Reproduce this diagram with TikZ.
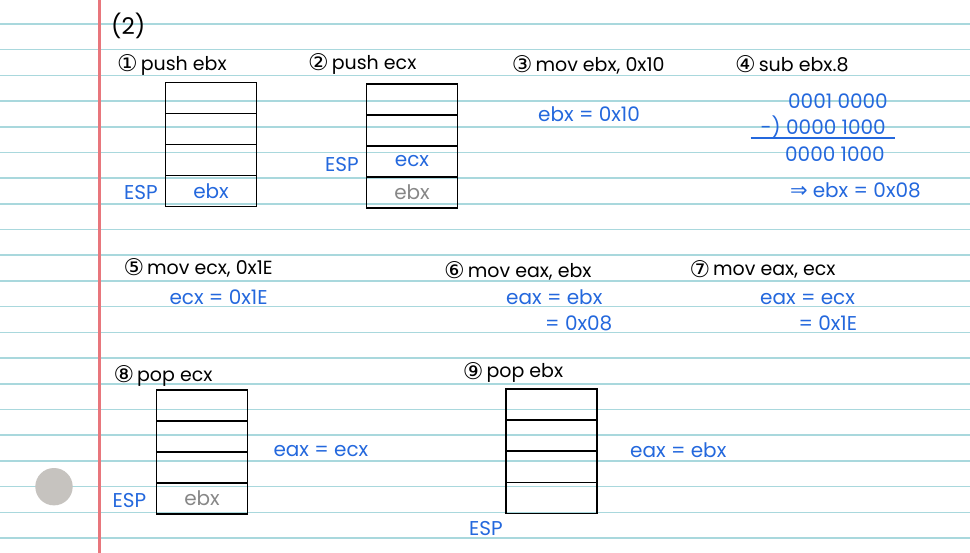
\documentclass[tikz,border=0pt]{standalone}
\usepackage{fontspec}
\setmainfont{Poppins}
\newfontfamily\dv{DejaVu Sans}
\definecolor{rule}{HTML}{A9D8DD}
\definecolor{margin}{HTML}{E8767C}
\definecolor{pen}{HTML}{2468DD}
\definecolor{faded}{HTML}{878787}
\definecolor{dot}{HTML}{C6C3BF}
\newcommand\cn[1]{\raisebox{-1.5pt}{\dv\fontsize{23}{24}\selectfont #1}\hspace{3pt}}
\begin{document}
\begin{tikzpicture}[x=1pt,y=-1pt,
  hd/.style={anchor=mid west, inner sep=0pt, yshift=-4.5pt, font=\fontsize{19}{22}\selectfont},
  bl/.style={anchor=mid west, inner sep=0pt, yshift=-4.5pt, text=pen, font=\fontsize{20}{23}\selectfont},
  blr/.style={bl, anchor=mid east},
  cell/.style={draw, line width=1.6pt, minimum width=91pt, minimum height=31pt, inner sep=0pt, font=\fontsize{20}{23}\selectfont},
  notebookline/.style={draw=rule, line width=1.6pt}]
\useasboundingbox (0,0) rectangle (970,553);
\fill[white] (0,0) rectangle (970,553);
% ruled paper
\foreach \k in {0,...,20} {
  \draw[notebookline] (0,{24+25.7*\k}) -- (970,{24+25.7*\k});
}
\draw[margin, line width=3pt] (99,0) -- (99,553);
\fill[dot] (54,486.7) circle (18.7);

% title
\node[hd, font=\fontsize{23}{26}\selectfont] (title) at (111,27) {(2)};

% 1 push ebx
\node[hd] (h1) at (117,63) {\cn{①}push ebx};
\node[cell] (s1a) at (211,98.2) {};
\node[cell] (s1b) at (211,129.2) {};
\node[cell] (s1c) at (211,160.2) {};
\node[cell, text=pen] (s1d) at (211,191.2) {ebx};
\node[bl] (esp1) at (124,192.7) {ESP};

% 2 push ecx
\node[hd] (h2) at (308,62) {\cn{②}push ecx};
\node[cell] (s2a) at (412,99.5) {};
\node[cell] (s2b) at (412,130.5) {};
\node[cell, text=pen] (s2c) at (412,161.5) {ecx};
\node[cell, text=faded] (s2d) at (412,192.5) {ebx};
\node[bl] (esp2) at (325,164.3) {ESP};

% 3 mov ebx, 0x10
\node[hd] (h3) at (511.7,64) {\cn{③}mov ebx, 0x10};
\node[bl] (r3) at (538,114) {ebx = 0x10};

% 4 sub ebx.8
\node[hd] (h4) at (735,64) {\cn{④}sub ebx.8};
\node[blr] (m1) at (888,101) {0001 0000};
\node[blr] (m2) at (886,127.3) {-) 0000 1000};
\coordinate (barL) at (750.7,138.3);
\coordinate (barR) at (895,138.3);
\draw[pen, line width=1.6pt] (barL) -- (barR);
\node[blr] (m3) at (885,154.3) {0000 1000};
\node[bl] (r4) at (790,190.7) {{\dv\fontsize{21}{22}\selectfont ⇒}\hspace{5pt}ebx = 0x08};

% 5 mov ecx, 0x1E
\node[hd] (h5) at (123.3,267) {\cn{⑤}mov ecx, 0x1E};
\node[bl] (r5) at (169.3,297.7) {ecx = 0x1E};

% 6 mov eax, ebx
\node[hd] (h6) at (444,270) {\cn{⑥}mov eax, ebx};
\node[bl] (r6a) at (506,297.3) {eax = ebx};
\node[bl] (r6b) at (545,323.3) {= 0x08};

% 7 mov eax, ecx
\node[hd] (h7) at (689.3,268.5) {\cn{⑦}mov eax, ecx};
\node[bl] (r7a) at (760,297) {eax = ecx};
\node[bl] (r7b) at (798.3,323) {= 0x1E};

% 8 pop ecx
\node[hd] (h8) at (113.3,374) {\cn{⑧}pop ecx};
\node[cell] (s8a) at (202,405.5) {};
\node[cell] (s8b) at (202,436.5) {};
\node[cell] (s8c) at (202,467.5) {};
\node[cell, text=faded] (s8d) at (202,498.5) {ebx};
\node[bl] (esp8) at (112.3,500.7) {ESP};
\node[bl] (r8) at (273.3,449.3) {eax = ecx};

% 9 pop ebx
\node[hd] (h9) at (462.7,370.7) {\cn{⑨}pop ebx};
\node[cell] (s9a) at (551.7,404.8) {};
\node[cell] (s9b) at (551.7,435.8) {};
\node[cell] (s9c) at (551.7,466.8) {};
\node[cell] (s9d) at (551.7,497.8) {};
\node[bl] (esp9) at (469,528.3) {ESP};
\node[bl] (r9) at (630,450) {eax = ebx};
\end{tikzpicture}
\end{document}
